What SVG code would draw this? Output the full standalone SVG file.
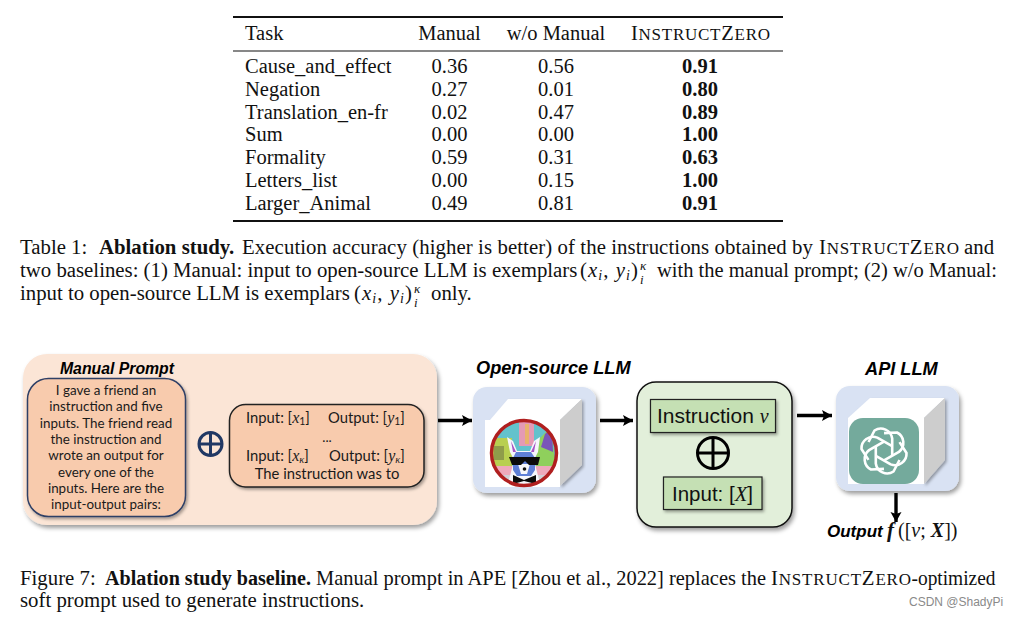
<svg xmlns="http://www.w3.org/2000/svg" width="1017" height="619" viewBox="0 0 1017 619">
<style>
text{font-family:"Liberation Serif","Times New Roman",serif;fill:#111;white-space:pre}
.t{font-size:20.5px}
.c{font-size:20.8px}
.m{text-anchor:middle}
.b{font-weight:bold}
.i{font-style:italic}
.sc{font-size:17px}
.p{font-family:"Lato","Open Sans",sans-serif;font-size:13.4px;text-anchor:middle;fill:#1a1a1a}
.q{font-family:"Lato","Open Sans",sans-serif;font-size:14.8px;fill:#1a1a1a}
.math{font-family:"Liberation Serif",serif;font-style:italic}
.h{font-family:"Liberation Sans",Arial,sans-serif;font-weight:bold;font-style:italic;font-size:18.2px;fill:#000}
.s{font-family:"Liberation Sans",Arial,sans-serif;fill:#111}
.rule{stroke:#111;fill:none}
.panel{fill:#d9e2f3;filter:url(#sh)}
.face{fill:#fff}
.side{fill:#cdcdcd}
.conn{stroke:#000;stroke-width:3.4;fill:none;marker-end:url(#ah)}
</style>
<defs>
<filter id="sh" x="-10%" y="-10%" width="125%" height="125%"><feDropShadow dx="2" dy="3" stdDeviation="2" flood-color="#000" flood-opacity="0.38"/></filter>
<filter id="sh2" x="-10%" y="-10%" width="125%" height="125%"><feDropShadow dx="1.5" dy="2" stdDeviation="1.4" flood-color="#000" flood-opacity="0.35"/></filter>
<marker id="ah" markerUnits="userSpaceOnUse" markerWidth="12" markerHeight="12" refX="10" refY="5.5" orient="auto"><path d="M0,0L10,5.5L0,11L2,5.5Z" fill="#000"/></marker>
<clipPath id="lc"><circle cx="524" cy="453" r="32"/></clipPath>
<path id="strand" d="M8.2,4.7L8.2,-12.5A11.500,11.500 0 0 0 -9.500,-20.500L-15.500,-9" fill="none" stroke="#fff" stroke-width="2.600" stroke-linejoin="round"/>
</defs>

<g id="table">
<line class="rule" x1="233" y1="17" x2="783" y2="17" stroke-width="2"/>
<line class="rule" x1="233" y1="51" x2="783" y2="51" stroke-width="1.2"/>
<line class="rule" x1="233" y1="221" x2="783" y2="221" stroke-width="2"/>
<text class="t" x="245" y="40">Task</text>
<text class="t m" x="449.500" y="40">Manual</text>
<text class="t m" x="556" y="40">w/o Manual</text>
<text class="t" x="631" y="40" textLength="139">I<tspan class="sc">NSTRUCT</tspan>Z<tspan class="sc">ERO</tspan></text>
<text class="t" x="245" y="73">Cause_and_effect</text><text class="t m" x="449.500" y="73">0.36</text><text class="t m" x="556" y="73">0.56</text><text class="t m b" x="700" y="73">0.91</text>
<text class="t" x="245" y="96">Negation</text><text class="t m" x="449.500" y="96">0.27</text><text class="t m" x="556" y="96">0.01</text><text class="t m b" x="700" y="96">0.80</text>
<text class="t" x="245" y="119">Translation_en-fr</text><text class="t m" x="449.500" y="119">0.02</text><text class="t m" x="556" y="119">0.47</text><text class="t m b" x="700" y="119">0.89</text>
<text class="t" x="245" y="141">Sum</text><text class="t m" x="449.500" y="141">0.00</text><text class="t m" x="556" y="141">0.00</text><text class="t m b" x="700" y="141">1.00</text>
<text class="t" x="245" y="164">Formality</text><text class="t m" x="449.500" y="164">0.59</text><text class="t m" x="556" y="164">0.31</text><text class="t m b" x="700" y="164">0.63</text>
<text class="t" x="245" y="187">Letters_list</text><text class="t m" x="449.500" y="187">0.00</text><text class="t m" x="556" y="187">0.15</text><text class="t m b" x="700" y="187">1.00</text>
<text class="t" x="245" y="210">Larger_Animal</text><text class="t m" x="449.500" y="210">0.49</text><text class="t m" x="556" y="210">0.81</text><text class="t m b" x="700" y="210">0.91</text>
</g>

<g id="table-caption">
<text class="c" x="20" y="254">Table 1:</text>
<text class="c b" x="99" y="254">Ablation study.</text>
<text class="c" x="242" y="254" textLength="571">Execution accuracy (higher is better) of the instructions obtained by</text>
<text class="c" x="819" y="254" textLength="140">I<tspan class="sc">NSTRUCT</tspan>Z<tspan class="sc">ERO</tspan></text>
<text class="c" x="964" y="254">and</text>
<text class="c" x="20" y="277">two baselines: (1) Manual: input to open-source LLM is exemplars</text>
<text class="c" x="580" y="277" textLength="58">(<tspan class="math">x</tspan><tspan class="math" font-size="14" dy="3">i</tspan><tspan dy="-3">, </tspan><tspan class="math">y</tspan><tspan class="math" font-size="14" dy="3">i</tspan><tspan dy="-3">)</tspan></text>
<text class="math" font-size="13" x="640" y="270">κ</text>
<text class="math" font-size="13" x="640" y="284">i</text>
<text class="c" x="657" y="277" textLength="340" lengthAdjust="spacingAndGlyphs">with the manual prompt; (2) w/o Manual:</text>
<text class="c" x="20" y="300">input to open-source LLM is exemplars</text>
<text class="c" x="354" y="300" textLength="58">(<tspan class="math">x</tspan><tspan class="math" font-size="14" dy="3">i</tspan><tspan dy="-3">, </tspan><tspan class="math">y</tspan><tspan class="math" font-size="14" dy="3">i</tspan><tspan dy="-3">)</tspan></text>
<text class="math" font-size="13" x="414" y="293">κ</text>
<text class="math" font-size="13" x="414" y="307">i</text>
<text class="c" x="431" y="300">only.</text>
</g>

<g id="manual-prompt">
<rect x="23" y="354" width="414" height="171" rx="24" fill="#fbe5d6" filter="url(#sh)"/>
<text class="h" x="117" y="374" text-anchor="middle" style="font-size:15.800px">Manual Prompt</text>
<g id="prompt-text">
<rect x="27.500" y="378.500" width="158" height="138" rx="21" fill="#f8cbad" stroke="#2f3f66" stroke-width="1.500" filter="url(#sh2)"/>
<text class="p" x="106" y="395">I gave a friend an</text>
<text class="p" x="106" y="411">instruction and five</text>
<text class="p" x="106" y="428">inputs. The friend read</text>
<text class="p" x="106" y="444">the instruction and</text>
<text class="p" x="106" y="460">wrote an output for</text>
<text class="p" x="106" y="477">every one of the</text>
<text class="p" x="106" y="493">inputs. Here are the</text>
<text class="p" x="106" y="509">input-output pairs:</text>
</g>
<g id="plus-1" fill="none" stroke="#203864" stroke-width="3">
<circle cx="210.500" cy="444" r="11.500"/><path d="M199,444H222M210.500,432.500V455.500"/>
</g>
<g id="exemplars">
<rect x="229.500" y="404.500" width="194.500" height="82.500" rx="16" fill="#f8cbad" stroke="#222" stroke-width="1.500" filter="url(#sh2)"/>
<text class="q" x="246" y="423">Input: [<tspan class="math" font-size="16">x</tspan><tspan font-size="10.500" dy="2">1</tspan><tspan dy="-2">]</tspan></text>
<text class="q" x="328" y="423">Output: [<tspan class="math" font-size="16">y</tspan><tspan font-size="10.500" dy="2">1</tspan><tspan dy="-2">]</tspan></text>
<text class="p" x="327" y="442">...</text>
<text class="q" x="246" y="461">Input: [<tspan class="math" font-size="16">x</tspan><tspan class="math" font-size="10.500" dy="2">κ</tspan><tspan dy="-2">]</tspan></text>
<text class="q" x="329" y="461">Output: [<tspan class="math" font-size="16">y</tspan><tspan class="math" font-size="10.500" dy="2">κ</tspan><tspan dy="-2">]</tspan></text>
<text class="q m" x="327" y="479">The instruction was to</text>
</g>
</g>

<g id="open-source-llm">
<text class="h" x="476" y="374">Open-source LLM</text>
<rect class="panel" x="473" y="387" width="123" height="106" rx="14"/>
<path d="M490,420L508,399H582L560,420Z" class="face" filter="url(#sh2)"/>
<path d="M560,420L582,399V465L560,486Z" class="side" filter="url(#sh2)"/>
<rect x="485" y="420" width="75" height="67" fill="#fff"/>
<g clip-path="url(#lc)">
<rect x="490" y="419" width="68" height="68" fill="#63c2cc"/>
<path d="M490,438H512V468H490Z" fill="#b8cf50"/>
<rect x="494" y="446" width="10" height="14" fill="#8f9c4a"/>
<rect x="519" y="422" width="15" height="24" fill="#e49ab5"/>
<rect x="525" y="424" width="4" height="20" fill="#e8b36c"/>
<path d="M536,448L540,438L548,430L552,438L556,470H536Z" fill="#8fd05c"/>
<path d="M541,447L545,434L552,428L553,452Z" fill="#7a55b8"/>
<rect x="490" y="466" width="68" height="9" fill="#eea9bb"/>
<rect x="490" y="475" width="68" height="13" fill="#cfd0d6"/>
<path d="M507,437L513,441L517,451H530L534,441L540,437L538,452L534,460L537,472L541,487H507L511,472L514,460L510,452Z" fill="#f6f6fb"/>
<path d="M511,441L516,452L513,452ZM536,441L531,452L534,452Z" fill="#a855c4"/>
<path d="M516,452H531L535,458V470L531,476H517L513,470V458Z" fill="#5f7fd6"/>
<path d="M518,464H530L527,474H521Z" fill="#f6f6fb"/>
<path d="M509,457H540L538,465H529L525,461L521,465H512Z" fill="#0b0b0b"/>
<circle cx="524.500" cy="469" r="1.800" fill="#111"/>
<path d="M513,475L524,480L536,475V484L524,481L513,484Z" fill="#0b0b0b"/>
</g>
<circle cx="524" cy="453" r="32.500" fill="none" stroke="#b01f1f" stroke-width="3.500"/>
</g>

<g id="instruction-block">
<rect x="637" y="382" width="155" height="145" rx="19" fill="#e2efda" stroke="#111" stroke-width="1.500" filter="url(#sh)"/>
<rect x="650.500" y="399.500" width="125" height="33" fill="#c5e0b4" stroke="#222" stroke-width="1.200" filter="url(#sh2)"/>
<text class="s" x="657" y="423" font-size="21">Instruction <tspan class="math" font-size="20">v</tspan></text>
<g fill="none" stroke="#000" stroke-width="3">
<circle cx="713" cy="453" r="15.500"/><path d="M697.500,453H728.500M713,437.500V468.500"/>
</g>
<rect x="663.500" y="477" width="98.500" height="32.500" fill="#c5e0b4" stroke="#222" stroke-width="1.200" filter="url(#sh2)"/>
<text class="s" x="672" y="501" font-size="20.500">Input: [<tspan class="math">X</tspan>]</text>
</g>

<g id="api-llm">
<text class="h" x="865" y="375">API LLM</text>
<rect class="panel" x="836" y="386" width="123" height="105" rx="14"/>
<path d="M848,418L870,398H945L924,418Z" class="face" filter="url(#sh2)"/>
<path d="M924,418L945,398V460L924,484Z" class="side" filter="url(#sh2)"/>
<rect x="848" y="418" width="76" height="66" fill="#fff"/>
<rect x="849" y="418" width="70" height="66" rx="14" fill="#74aa9c"/>
<g transform="translate(884 451)">
<use href="#strand"/>
<use href="#strand" transform="rotate(60)"/>
<use href="#strand" transform="rotate(120)"/>
<use href="#strand" transform="rotate(180)"/>
<use href="#strand" transform="rotate(240)"/>
<use href="#strand" transform="rotate(300)"/>
</g>
</g>

<g id="output">
<text class="h" x="827" y="537" style="font-size:17px">Output</text>
<text x="887" y="537" font-size="21" font-weight="bold" font-style="italic" fill="#111">f</text>
<text x="898" y="537" font-size="20" fill="#111">([<tspan class="math">v</tspan>; <tspan class="math b">X</tspan>])</text>
</g>

<g id="connectors">
<line class="conn" x1="438" y1="420.500" x2="472" y2="420.500"/>
<line class="conn" x1="600" y1="420.500" x2="633" y2="420.500"/>
<line class="conn" x1="797" y1="415.500" x2="832" y2="415.500"/>
<line class="conn" x1="896" y1="493" x2="896" y2="522"/>
</g>

<g id="figure-caption">
<text class="c" x="20" y="585">Figure 7:</text>
<text class="c b" x="105" y="585" textLength="206" lengthAdjust="spacingAndGlyphs">Ablation study baseline.</text>
<text x="316" y="585" font-size="20.200" textLength="450" lengthAdjust="spacingAndGlyphs">Manual prompt in APE [Zhou et al., 2022] replaces the</text>
<text class="c" x="771" y="585" textLength="140">I<tspan class="sc">NSTRUCT</tspan>Z<tspan class="sc">ERO</tspan></text>
<text class="c" x="911.500" y="585" textLength="84" lengthAdjust="spacingAndGlyphs">-optimized</text>
<text class="c" x="20" y="607">soft prompt used to generate instructions.</text>
</g>
<text id="watermark" x="909" y="606" font-size="12" style="font-family:'Liberation Sans',sans-serif;fill:#8a8a8a">CSDN @ShadyPi</text>
</svg>
